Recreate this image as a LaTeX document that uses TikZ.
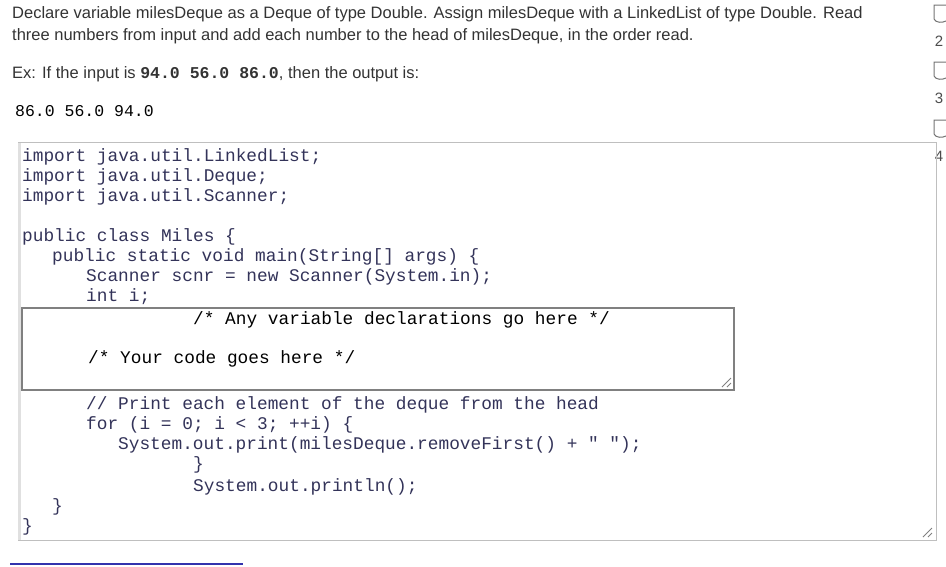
\documentclass[tikz,border=0pt]{standalone}
\usepackage{fontspec}
\setmainfont{Liberation Sans}
\setmonofont{Liberation Mono}
\begin{document}
\begin{tikzpicture}[x=1pt,y=-1pt,
  desc/.style={anchor=west,inner sep=0,font=\fontsize{16.5}{16}\selectfont,text=black!80},
  code/.style={anchor=west,inner sep=0,font=\ttfamily\fontsize{17.8}{18}\selectfont,text=black!75!blue!60!gray},
  ucode/.style={anchor=west,inner sep=0,font=\ttfamily\fontsize{17.8}{18}\selectfont,text=black},
  chk/.style={draw=black!55,line width=1pt},
  num/.style={inner sep=0,font=\fontsize{15}{15}\selectfont,text=black!70}]
\useasboundingbox (0,0) rectangle (946,566);
\node[desc] (d1) at (12,14) {Declare variable milesDeque as a Deque of type Double. Assign milesDeque with a LinkedList of type Double. Read};
\node[desc] (d2) at (12,36) {three numbers from input and add each number to the head of milesDeque, in the order read.};
\node[desc] (ex) at (12,74) {Ex: If the input is {\ttfamily\bfseries 94.0 56.0 86.0}, then the output is:};
\node[ucode,font=\ttfamily\fontsize{16.5}{16}\selectfont] (out) at (15,111) {86.0 56.0 94.0};
% checkbox column
\foreach \yy/\n in {5/2,62/3,120/4}{
  \draw[chk] (946,\yy) -- (934,\yy) -- (934,\yy+14) .. controls (936,\yy+18) and (942,\yy+18) .. (946,\yy+16);
  \node[num] at (939,\yy+36) {\n};
}
% outer code box
\node[draw=black!25,line width=1.2pt,minimum width=918,minimum height=398,anchor=north west,inner sep=0] (outer) at (18,142) {};
\draw[black!12,line width=3pt] (outer.north west) ++(1.5,1) -- ([xshift=1.5pt,yshift=1pt]outer.south west);
% editable box
\node[draw=black!50,line width=1.8pt,minimum width=712,minimum height=82,anchor=north west,inner sep=0] (edit) at (21,307) {};
\draw[black!50,line width=0.8pt] (722,387) -- (731,378) (727,387) -- (731,383);
\draw[black!50,line width=0.8pt] (923,537) -- (932,528) (928,537) -- (932,533);
\node[code] (c1) at (22,157) {import java.util.LinkedList;};
\node[code] (c2) at (22,177) {import java.util.Deque;};
\node[code] (c3) at (22,197) {import java.util.Scanner;};
\node[code] (c4) at (22,237) {public class Miles \{};
\node[code] (c5) at (52,257) {public static void main(String[] args) \{};
\node[code] (c6) at (86,277) {Scanner scnr = new Scanner(System.in);};
\node[code] (c7) at (86,297) {int i;};
\node[ucode] (u1) at (193,320) {/* Any variable declarations go here */};
\node[ucode] (u2) at (88,359) {/* Your code goes here */};
\node[code] (c8) at (86,405) {// Print each element of the deque from the head};
\node[code] (c9) at (86,425) {for (i = 0; i < 3; ++i) \{};
\node[code] (c10) at (118,445) {System.out.print(milesDeque.removeFirst() + " ");};
\node[code] (c11) at (193,465) {\}};
\node[code] (c12) at (193,487) {System.out.println();};
\node[code] (c13) at (52,507) {\}};
\node[code] (c14) at (22,527) {\}};
\draw[blue!60!black!80,line width=2pt] (10,564) -- (243,564);
\end{tikzpicture}
\end{document}
